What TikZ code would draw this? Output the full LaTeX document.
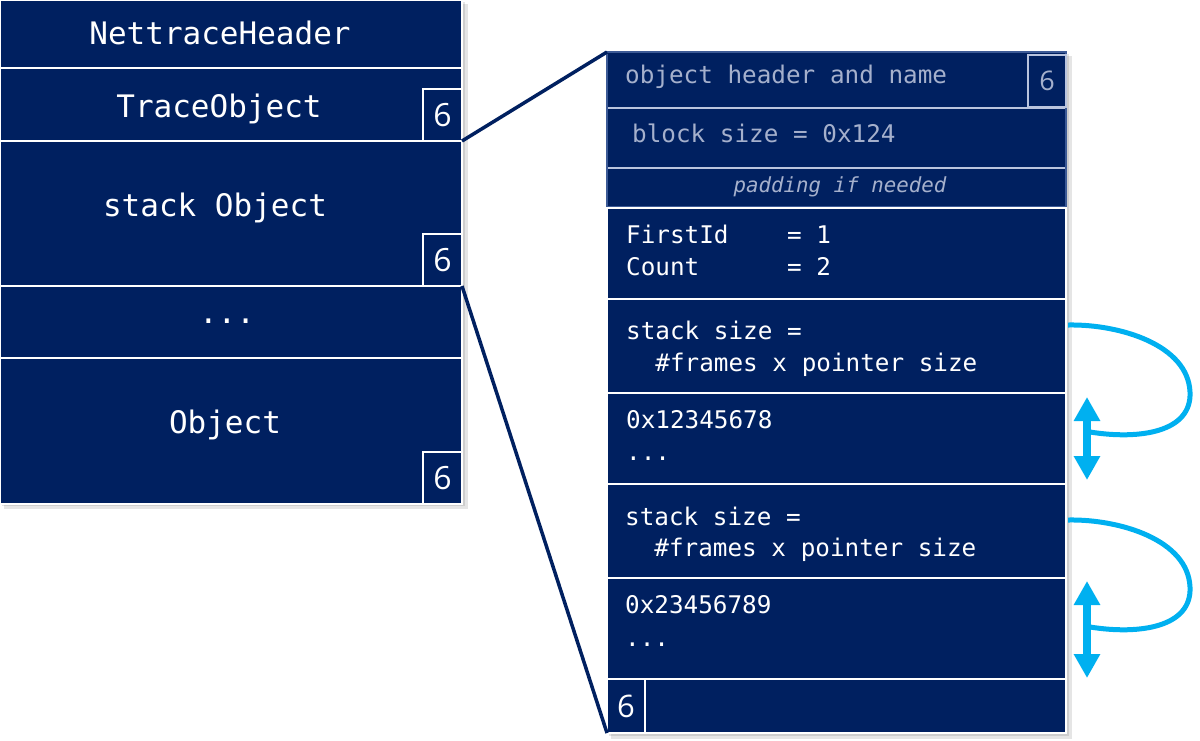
\documentclass[tikz,border=0pt]{standalone}
\usepackage{fontspec}
\setmainfont{Open Sans}
\setmonofont{DejaVu Sans Mono}
\newfontfamily\sixfont{Open Sans}
\usetikzlibrary{arrows.meta}
\definecolor{navy}{HTML}{002060}
\definecolor{cyanarr}{HTML}{00B0F0}
\definecolor{hdrgray}{RGB}{165,176,204}
\definecolor{hdrline}{RGB}{185,196,222}
\definecolor{hdrborder}{RGB}{60,90,150}
\tikzset{
  cell/.style={draw=white, line width=2pt, fill=navy, inner sep=0pt, outer sep=0pt, anchor=north west},
  hcell/.style={draw=hdrline, line width=1.2pt, fill=navy, inner sep=0pt, outer sep=0pt, anchor=north west},
  sixbox/.style={draw=white, line width=1.5pt, fill=navy, minimum width=39pt, minimum height=52pt, inner sep=0pt, outer sep=0pt, text=white, font=\sixfont\fontsize{32}{32}\selectfont},
  biglbl/.style={anchor=base, text=white, inner sep=0pt, font=\ttfamily\fontsize{31}{31}\selectfont},
  rlbl/.style={anchor=base west, text=white, inner sep=0pt, font=\ttfamily\fontsize{24.3}{24.3}\selectfont},
  hlbl/.style={rlbl, text=hdrgray},
  zoomline/.style={draw=navy, line width=3.5pt},
  loopline/.style={draw=cyanarr, line width=5pt},
  dblarrow/.style={draw=cyanarr, line width=8pt, {Triangle[width=25pt,length=24pt]}-{Triangle[width=25pt,length=24pt]}},
  shadowbox/.style={fill=black, opacity=0.10}
}
\begin{document}
\begin{tikzpicture}[x=1pt,y=-1pt]
\useasboundingbox[fill=white] (0,0) rectangle (1200,740);

% shadows
\fill[shadowbox] (4,4) rectangle (468,509);
\fill[shadowbox] (2,2) rectangle (465,506);
\fill[shadowbox] (611,56) rectangle (1072,739);
\fill[shadowbox] (609,54) rectangle (1069,736);

% left panel
\node[cell, minimum width=462pt, minimum height=68pt] (lh) at (0,0) {};
\node[cell, minimum width=462pt, minimum height=73pt] (lt) at (0,68) {};
\node[cell, minimum width=462pt, minimum height=145pt] (ls) at (0,141) {};
\node[cell, minimum width=462pt, minimum height=72pt] (ld) at (0,286) {};
\node[cell, minimum width=462pt, minimum height=146pt] (lo) at (0,358) {};

\node[biglbl] (lhT) at (220,44) {NettraceHeader};
\node[biglbl] (ltT) at (219,117) {TraceObject};
\node[biglbl] (lsT) at (215,216) {stack Object};
\node[biglbl] (ldT) at (227,323) {...};
\node[biglbl] (loT) at (225,433) {Object};

\node[sixbox, anchor=south east] (lt6) at (lt.south east) {6};
\node[sixbox, anchor=south east] (ls6) at (ls.south east) {6};
\node[sixbox, anchor=south east] (lo6) at (lo.south east) {6};

% right panel - header section
\node[hcell, minimum width=459pt, minimum height=56pt] (rh) at (607,52) {};
\node[hcell, minimum width=459pt, minimum height=60pt] (rb) at (607,108) {};
\node[hcell, minimum width=459pt, minimum height=39pt] (rp) at (607,168) {};
\draw[hdrborder, line width=1.5pt] (rh.north west) rectangle (rp.south east);
\node[sixbox, draw=hdrline, line width=1.2pt, text=hdrgray, minimum width=38pt, minimum height=52pt, font=\sixfont\fontsize{27}{27}\selectfont, anchor=north east] (rh6) at (1066,55) {6};

\node[hlbl] (rhT) at (625,83) {object header and name};
\node[hlbl] (rbT) at (632,142) {block size = 0x124};
\node[hlbl, anchor=base, font=\ttfamily\itshape\fontsize{20.8}{20.8}\selectfont] (rpT) at (840,192) {padding if needed};

% right panel - body
\node[cell, minimum width=459pt, minimum height=91pt] (rf) at (607,208) {};
\node[cell, minimum width=459pt, minimum height=94pt] (rs1) at (607,299) {};
\node[cell, minimum width=459pt, minimum height=91pt] (rp1) at (607,393) {};
\node[cell, minimum width=459pt, minimum height=94pt] (rs2) at (607,484) {};
\node[cell, minimum width=459pt, minimum height=101pt] (rp2) at (607,578) {};
\node[cell, minimum width=459pt, minimum height=54pt] (rz) at (607,679) {};
\node[sixbox, minimum width=38pt, minimum height=54pt, font=\sixfont\fontsize{31}{31}\selectfont, anchor=north west] (rz6) at (rz.north west) {6};

\node[rlbl] (rfA) at (626,243) {FirstId\hphantom{0000}= 1};
\node[rlbl] (rfB) at (626,275) {Count\hphantom{000000}= 2};
\node[rlbl] (rs1A) at (626,339) {stack size =};
\node[rlbl] (rs1B) at (626,371) {\hphantom{00}\#frames x pointer size};
\node[rlbl] (rp1A) at (626,428) {0x12345678};
\node[rlbl] (rp1B) at (626,460) {...};
\node[rlbl] (rs2A) at (625,525) {stack size =};
\node[rlbl] (rs2B) at (625,556) {\hphantom{00}\#frames x pointer size};
\node[rlbl] (rp2A) at (625,613) {0x23456789};
\node[rlbl] (rp2B) at (625,646) {...};

% zoom lines
\draw[zoomline] (lt.south east) -- (rh.north west);
\draw[zoomline] (ls.south east) -- (rz.south west);

% cyan loops and double arrows
\coordinate (l1s) at (1068,325);
\coordinate (l1e) at (1090,432);
\coordinate (a1t) at (1087,397);
\coordinate (a1b) at (1087,480);
\draw[loopline] (l1s) .. controls (1120,324) and (1188,345) .. (1190,392) .. controls (1192,432) and (1140,440) .. (l1e);
\draw[dblarrow] (a1t) -- (a1b);

\coordinate (l2s) at (1068,520);
\coordinate (l2e) at (1090,627);
\coordinate (a2t) at (1087,581);
\coordinate (a2b) at (1087,678);
\draw[loopline] (l2s) .. controls (1120,519) and (1188,540) .. (1190,587) .. controls (1192,627) and (1140,635) .. (l2e);
\draw[dblarrow] (a2t) -- (a2b);
\end{tikzpicture}
\end{document}
